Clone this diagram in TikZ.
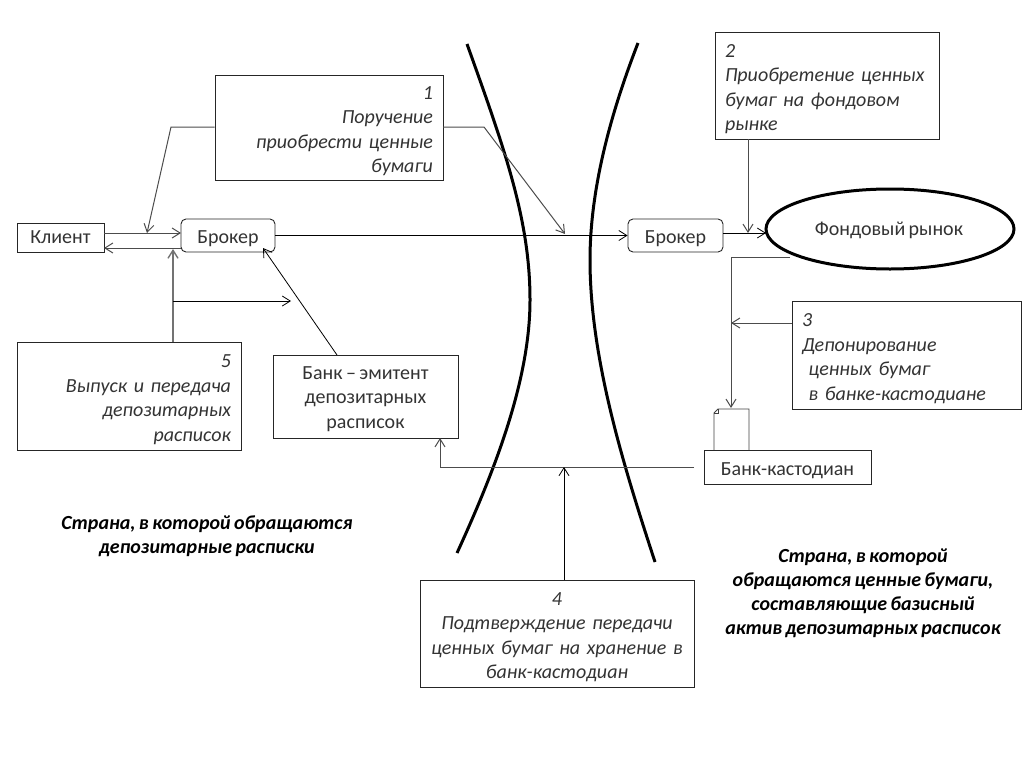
\documentclass[tikz,border=0pt]{standalone}
\usepackage{fontspec}
\setmainfont[WordSpace=0.75]{Carlito}
\usetikzlibrary{arrows.meta,shapes.geometric}

\newcommand{\dbnote}[7]{%
  % Note box: #1=name, #2=x1, #3=y1, #4=x2, #5=y2, #6=align, #7=text
  \node[notebox, align=#6, minimum width={(#4-#2)*1pt}, minimum height={(#5-#3)*1pt},
    text width={(#4-#2-20)*1pt}] (#1) at ({(#2+#4)/2},{(#3+#5)/2}) {\rule{0pt}{20pt}#7};%
}
\tikzset{
  notebox/.style={draw=black!85, line width=0.9pt, inner sep=0pt,
    font=\fontsize{20}{24.5}\selectfont\itshape, text=black!80},
  actor/.style={draw=black!85, line width=0.9pt, inner sep=0pt,
    font=\fontsize{20}{24.5}\selectfont, text=black!80},
  actortext/.style={inner sep=0pt, font=\fontsize{20}{24.5}\selectfont, text=black!80},
  flow/.style={->, draw=black!70, line width=1pt},
  flowblack/.style={->, draw=black, line width=0.8pt},
  border/.style={draw=black, line width=3pt},
  caption/.style={font=\fontsize{20}{24}\selectfont\bfseries\itshape, align=center}
}

\begin{document}
\begin{tikzpicture}[x=1pt, y=-1pt, >={Straight Barb[length=8pt,width=10pt]}]
\useasboundingbox (0,0) rectangle (1024,768);

% ================================================================
% Country borders
% ================================================================
\draw[border] (467,44) .. controls (505,150) and (530,220) .. (530,300)
  .. controls (530,380) and (495,470) .. (457,553);
\draw[border] (638,43) .. controls (610,115) and (590,190) .. (590,260)
  .. controls (590,360) and (625,470) .. (655,562);

% ================================================================
% Actors
% ================================================================
\node[actor, minimum width=87pt, minimum height=29pt] (client) at (60.5,237.5) {Клиент};
\node[actor, rounded corners=5pt, text height=16pt, text depth=0pt, minimum width=94pt, minimum height=33pt] (broker) at (228,235.5) {Брокер\hspace{17pt}};
\node[actor, rounded corners=5pt, text height=16pt, text depth=0pt, minimum width=95pt, minimum height=33pt] (brokerb) at (675.5,235.5) {Брокер};
\node[actor, ellipse, draw=black, line width=3pt, minimum width=248pt, minimum height=80pt] (market) at (890,229) {};
\node[actortext] (marketlabel) at (889,230) {Фондовый рынок};
\node[actor, text height=16pt, text depth=0pt, minimum width=167pt, minimum height=34pt] (custodian) at (787.5,467) {Банк-кастодиан};

% Document on top of the custodian
\draw[draw=black!75, line width=0.9pt] (714,450) -- (714,413) -- (718,409) -- (749,409) -- (749,450);
\draw[draw=black!75, line width=0.6pt] (714,413) -- (718,413) -- (718,409);

\node[actor, minimum width=185pt, minimum height=83pt, align=center] (issuer) at (365.5,396.5)
  {\rule{0pt}{18pt}Банк -- эмитент\\депозитарных\\расписок};

% ================================================================
% Notes
% ================================================================
\dbnote{noteone}{215}{75}{443}{180}{right}{1\\Поручение\\приобрести ценные\\бумаги}
\dbnote{notetwo}{715}{32}{939}{139}{left}{2\\Приобретение ценных\\бумаг на фондовом\\рынке}
\dbnote{notethree}{792}{301}{1021}{409}{left}{3\\Депонирование\\\ ценных бумаг\\\ в банке-кастодиане}
\dbnote{notefour}{420}{580}{694}{687}{center}{4\\Подтверждение передачи\\ценных бумаг на хранение в\\банк-кастодиан}
\dbnote{notefive}{17}{342}{241}{450}{right}{5\\Выпуск и передача\\депозитарных\\расписок}

% ================================================================
% Free ends
% ================================================================
\coordinate (clientin) at (104,233);
\coordinate (clientout) at (104,248);
\coordinate (brokerin) at (181,233);
\coordinate (brokerout) at (181,248);
\coordinate (orderbend) at (171,127);
\coordinate (orderend) at (147,233);
\coordinate (oneout) at (443,127);
\coordinate (onebend) at (484,127);
\coordinate (oneend) at (565,234);
\coordinate (fiveout) at (173,342);
\coordinate (fivejoin) at (173,301);
\coordinate (fiveup) at (173,249);
\coordinate (fiveend) at (291,301);
\coordinate (brokeredge) at (263,248);
\coordinate (issuertop) at (337,355);
\coordinate (twoout) at (748,139);
\coordinate (twoend) at (748,233);
\coordinate (brokerbout) at (723,233);
\coordinate (marketin) at (766,233);
\coordinate (marketout) at (790,257);
\coordinate (depotop) at (731,257);
\coordinate (depoend) at (731,408);
\coordinate (threeout) at (792,323);
\coordinate (threeend) at (731,323);
\coordinate (custout) at (694,467);
\coordinate (custbend) at (440,467);
\coordinate (issuerbot) at (440,438);
\coordinate (fourout) at (564,580);
\coordinate (fourend) at (564,467);

% ================================================================
% Connectors
% ================================================================
\draw[flow] (clientin) -- (brokerin);
\draw[flow] (brokerout) -- (clientout);
\draw[flow] (noteone.west |- oneout) -- (orderbend) -- (orderend);
\draw[flow] (oneout) -- (onebend) -- (oneend);
\draw[flowblack] (broker.east) -- (brokerb.west);
\draw[flow, draw=black!55, line width=1.4pt] (fiveout) -- (fiveup);
\draw[flowblack] (fivejoin) -- (fiveend);
\draw[flowblack] (issuertop) -- (brokeredge);
\draw[flow] (twoout) -- (twoend);
\draw[flowblack] (brokerbout) -- (marketin);
\draw[flow] (marketout) -- (depotop) -- (depoend);
\draw[flow] (threeout) -- (threeend);
\draw[flow] (custout) -- (custbend) -- (issuerbot);
\draw[flowblack] (fourout) -- (fourend);

% ================================================================
% Captions
% ================================================================
\node[caption] (capleft) at (207,536) {Страна, в которой обращаются\\депозитарные расписки};
\node[caption] (capright) at (863,593) {Страна, в которой\\обращаются ценные бумаги,\\составляющие базисный\\актив депозитарных расписок};

\end{tikzpicture}
\end{document}
